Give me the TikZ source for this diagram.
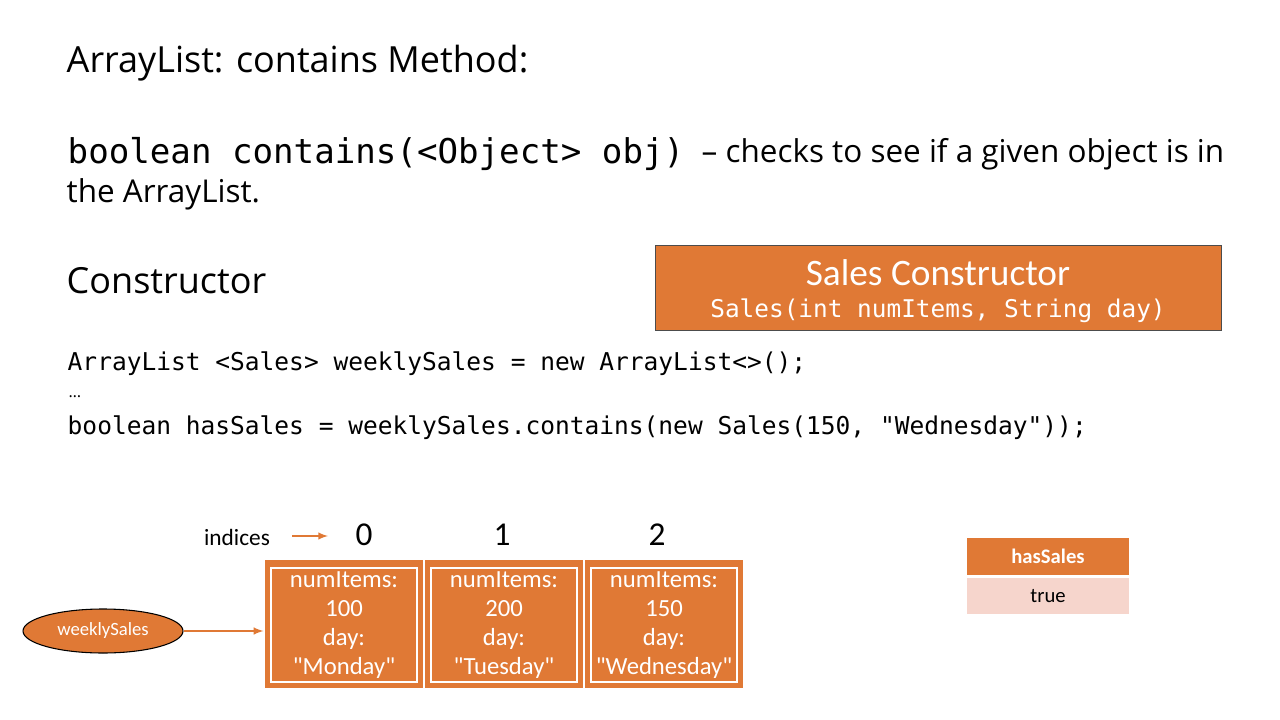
\documentclass[tikz,border=0pt]{standalone}
\usepackage{fontspec}
\usetikzlibrary{shapes.geometric}
\setmainfont{Open Sans}
\newfontfamily\carl{Carlito}
\setmonofont{DejaVu Sans Mono}
\definecolor{org}{HTML}{E07935}
\definecolor{pk}{HTML}{F6D5CC}
\begin{document}
\begin{tikzpicture}[x=0.75pt,y=-0.75pt,
 cell/.style={fill=org,draw=white,line width=0.8pt,minimum width=160*0.75pt,minimum height=130*0.75pt,inner sep=0},
 inner/.style={draw=white,line width=2.2pt,minimum width=146*0.75pt,minimum height=114*0.75pt,align=center,font=\carl\fontsize{18.5}{21.6}\selectfont,text=white,inner sep=0},
 arr/.style={org,line width=1.5pt,-latex}]
\useasboundingbox (0,0) rectangle (1280,720);
\node[anchor=west,font=\fontsize{27}{32}\selectfont] (t) at (62,63) {ArrayList: contains Method:};
\node[anchor=west,font=\ttfamily\fontsize{25.6}{30}\selectfont] (m) at (63,154) {boolean contains(<Object> obj)};
\node[anchor=west,font=\fontsize{23.6}{28}\selectfont] (d) at (697,154) {– checks to see if a given object is in};
\node[anchor=west,font=\fontsize{23.6}{28}\selectfont] (d2) at (62,194) {the ArrayList.};
\node[anchor=west,font=\fontsize{27}{32}\selectfont] (c) at (62,281) {Constructor};
\node[fill=org,draw=black!70,line width=0.6pt,minimum width=566*0.75pt,minimum height=85*0.75pt,inner sep=0] (sc) at (938,288) {};
\node[text=white,font=\carl\fontsize{28}{32}\selectfont] (sct) at (938,273) {Sales Constructor};
\node[text=white,font=\ttfamily\fontsize{18.3}{20}\selectfont] (scs) at (938,311) {Sales(int numItems, String day)};
\begin{scope}[font=\ttfamily\fontsize{18.4}{20}\selectfont]
\node[anchor=west] (l1) at (63,364) {ArrayList <Sales> weeklySales = new ArrayList<>();};
\node[anchor=west,font=\fontsize{12}{14}\selectfont] (l2) at (64,397) {…};
\node[anchor=west] (l3) at (63,428) {boolean hasSales = weeklySales.contains(new Sales(150, "Wednesday"));};
\end{scope}
\node[font=\carl\fontsize{17.5}{20}\selectfont] (ind) at (237,537) {indices};
\coordinate (ia) at (292,536);
\coordinate (ib) at (328,536);
\draw[arr] (ia) -- (ib);
\foreach \i/\x/\p/\n/\d in {0/344/364/100/"Monday",1/504/502/200/"Tuesday",2/664/657/150/"Wednesday"}{
 \node[font=\carl\fontsize{25}{28}\selectfont] (n\i) at (\p,535) {\i};
 \node[cell] (c\i) at (\x,624) {};
 \node[inner] (in\i) at (\x,625) {numItems:\\\n\\day:\\\d};
}
\node[ellipse,fill=org,draw=black,line width=0.8pt,minimum width=160*0.75pt,minimum height=44*0.75pt,inner sep=0,text=white,font=\carl\fontsize{14}{16}\selectfont] (ws) at (103,631) {weeklySales};
\draw[arr] (ws) -- (c0.west |- ws);
\node[fill=org,minimum width=162*0.75pt,minimum height=37*0.75pt,inner sep=0,text=white,font=\carl\bfseries\fontsize{15.5}{18}\selectfont] (hs) at (1048,556) {hasSales};
\node[fill=pk,minimum width=162*0.75pt,minimum height=36*0.75pt,inner sep=0,font=\carl\fontsize{15.5}{18}\selectfont,anchor=north] (hv) at ([yshift=-2pt]hs.south) {true};
\end{tikzpicture}
\end{document}
